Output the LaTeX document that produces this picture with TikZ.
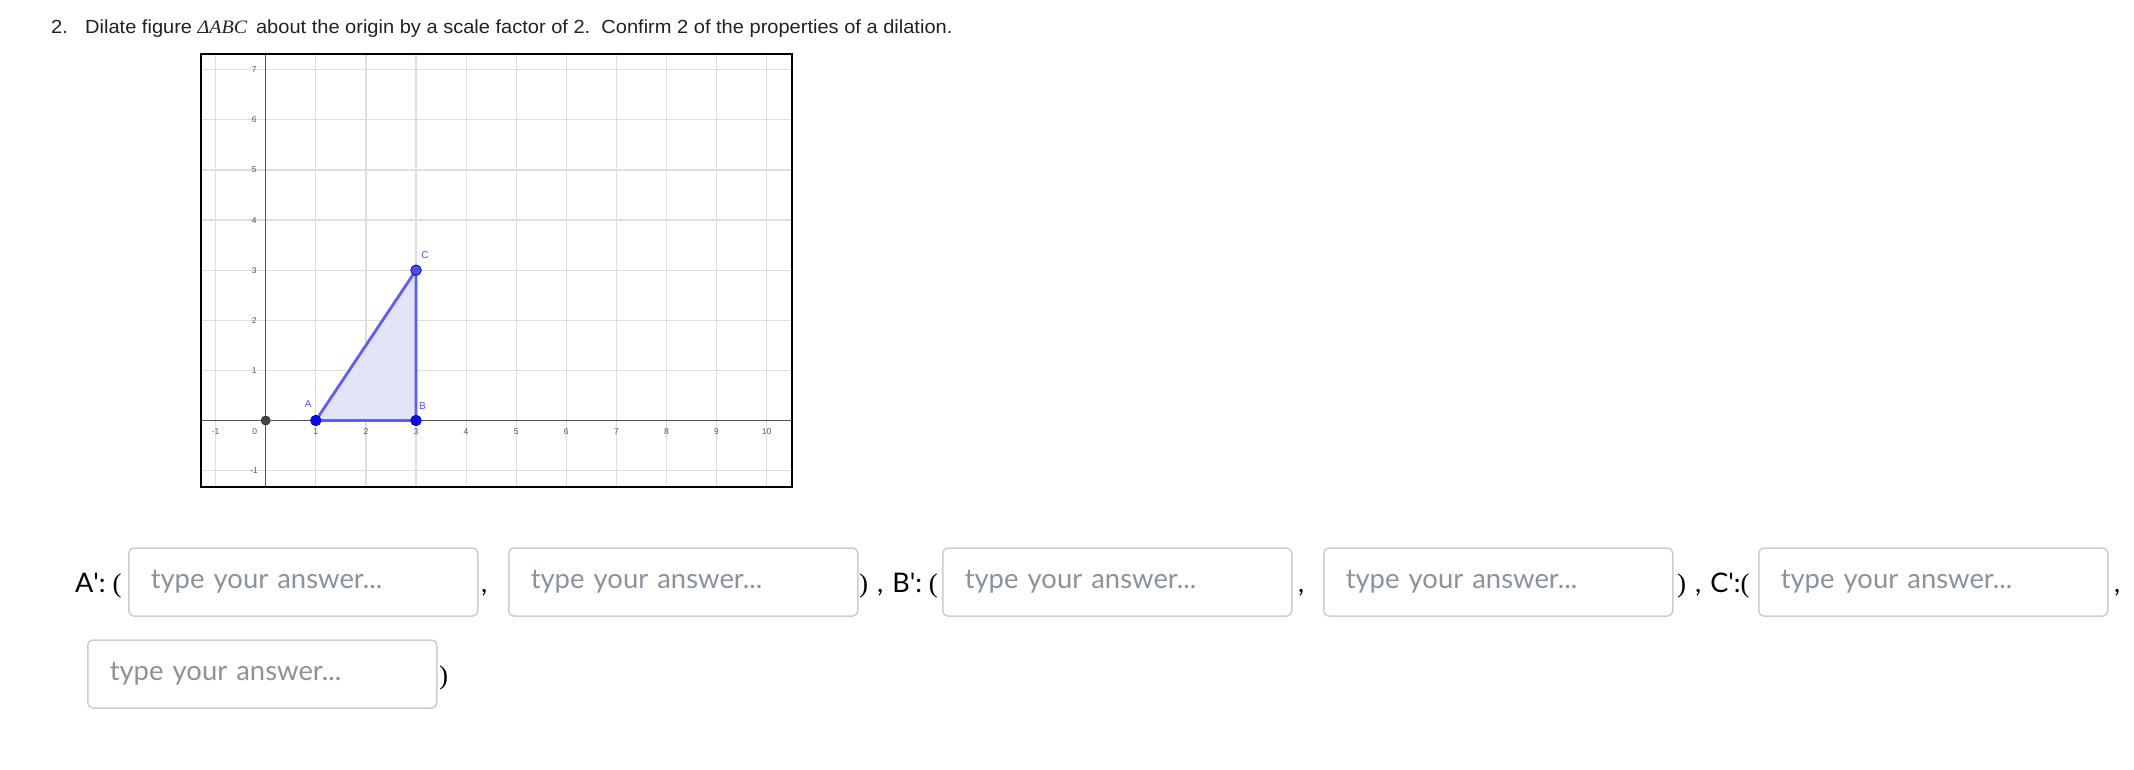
\documentclass[tikz,border=0pt]{standalone}
\usepackage{fontspec}
\setmainfont{Liberation Sans}
\newfontfamily\latofont{Lato}
\newfontfamily\seriffont{Liberation Serif}
\newfontfamily\titlefont[FakeStretch=1.055]{Liberation Sans}
\newfontfamily\titleserif[FakeStretch=1.055]{Liberation Serif}
\definecolor{titlecol}{HTML}{222222}
\definecolor{boxgray}{HTML}{C9CED3}
\definecolor{phgray}{HTML}{8A939B}
\definecolor{gridcol}{HTML}{DEDEDE}
\definecolor{axiscol}{HTML}{555555}
\definecolor{tricol}{HTML}{5C5CFF}
\definecolor{trifillcol}{HTML}{E4E4F9}
\definecolor{ptdark}{HTML}{0A0AEE}
\definecolor{ptlight}{HTML}{4D4DFF}
\definecolor{labcol}{HTML}{5050FF}
\tikzset{
  ansbox/.style={draw=boxgray, line width=1.5pt, rounded corners=5pt, anchor=west,
    minimum height=68pt, text width=305pt, inner xsep=22pt, inner ysep=0pt, align=left,
    text=phgray, font=\latofont\fontsize{27.4}{30}\selectfont},
  lbl/.style={anchor=base west, inner sep=0pt, text=black, font=\latofont\fontsize{27}{30}\selectfont},
  gridline/.style={draw=gridcol, line width=1.2pt},
  axisline/.style={draw=axiscol, line width=1.5pt},
  tick/.style={inner sep=0pt, text=axiscol, font=\fontsize{8.5}{10}\selectfont},
  pt/.style={circle, inner sep=0pt, minimum size=10.5pt, line width=0.8pt},
  ptlab/.style={inner sep=0pt, text=labcol, font=\fontsize{10}{12}\selectfont},
}
\begin{document}
\begin{tikzpicture}[x=1pt,y=-1pt]
\useasboundingbox (0,0) rectangle (2134,770);
\fill[white] (0,0) rectangle (2134,770);
% title
\node[anchor=base west, inner sep=0pt, text=titlecol, font=\titlefont\fontsize{19}{22}\selectfont] (num) at (51,34) {2.};
\node[anchor=base west, inner sep=0pt, text=titlecol, font=\titlefont\fontsize{19}{22}\selectfont] (title) at (85,34)
  {Dilate figure {\titleserif\itshape ΔABC}\ \,about the origin by a scale factor of 2.\ \ Confirm 2 of the properties of a dilation.};
% graph
\begin{scope}[shift={(265.7,420.5)}, x=50.1pt, y=50.1pt]
  \fill[white] (-1.29,-1.33) rectangle (10.5,7.32);
  \foreach \i in {-1,...,10} \draw[gridline] (\i,-1.33) -- (\i,7.32);
  \foreach \j in {-1,...,7} \draw[gridline] (-1.29,\j) -- (10.5,\j);
  \draw[axisline] (-1.29,0) -- (10.5,0);
  \draw[axisline] (0,-1.33) -- (0,7.32);
  \foreach \i in {-1,1,2,3,4,5,6,7,8,9,10} \node[tick] (xt\i) at (\i,-0.23) {\i};
  \node[tick] (xt0) at (-0.22,-0.23) {0};
  \foreach \j in {-1,1,2,3,4,5,6,7} \node[tick] (yt\j) at (-0.23,\j) {\j};
  \coordinate (Ac) at (1,0);
  \coordinate (Bc) at (3,0);
  \coordinate (Cc) at (3,3);
  \fill[trifillcol] (Ac) -- (Bc) -- (Cc) -- cycle;
  \draw[tricol, line width=2.8pt, line join=round] (Ac) -- (Bc) -- (Cc) -- cycle;
  \node[pt, fill=axiscol!80!black, draw=axiscol!60!black, minimum size=9pt] (O) at (0,0) {};
  \node[pt, fill=ptdark, draw=ptdark!70!black] (A) at (Ac) {};
  \node[pt, fill=ptdark, draw=ptdark!70!black] (B) at (Bc) {};
  \node[pt, fill=ptlight, draw=ptdark!60!black] (C) at (Cc) {};
  \node[ptlab] (Al) at (0.85,0.33) {A};
  \node[ptlab] (Bl) at (3.13,0.28) {B};
  \node[ptlab] (Cl) at (3.18,3.31) {C};
  \draw[black, line width=2pt] (-1.29,-1.33) rectangle (10.5,7.32);
\end{scope}
% answer row 1
\node[lbl] (la) at (75,592) {A\textquotesingle: {\seriffont(}};
\node[ansbox] (b1) at (128,582) {type your answer...};
\node[lbl] (c1) at (481,592) {,};
\node[ansbox] (b2) at (508,582) {type your answer...};
\node[lbl] (lb) at (859,592) {{\seriffont)}\,\,,\,\,B\textquotesingle: {\seriffont(}};
\node[ansbox] (b3) at (942,582) {type your answer...};
\node[lbl] (c2) at (1298,592) {,};
\node[ansbox] (b4) at (1323,582) {type your answer...};
\node[lbl] (lc) at (1677,592) {{\seriffont)}\,\,,\,\,C\textquotesingle:{\seriffont(}};
\node[ansbox] (b5) at (1758,582) {type your answer...};
\node[lbl] (c3) at (2114,592) {,};
% answer row 2
\node[ansbox] (b6) at (87,674) {type your answer...};
\node[lbl] (rp) at (439,684) {{\seriffont)}};
\end{tikzpicture}
\end{document}
